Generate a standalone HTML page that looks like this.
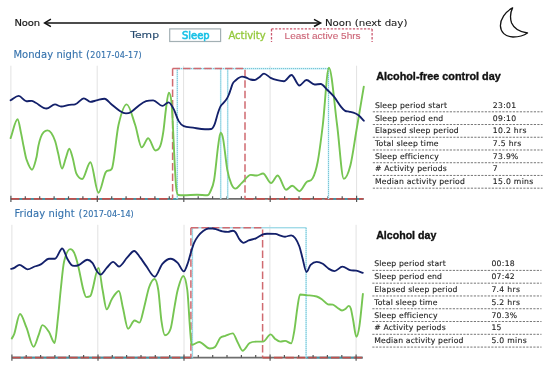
<!DOCTYPE html>
<html><head><meta charset="utf-8"><style>
html,body{margin:0;padding:0;background:#fff;}
svg{display:block;}
.dj{font-family:"DejaVu Sans",sans-serif;}
.lb{font-family:"Liberation Sans",Arial,sans-serif;}
.tb{font-family:"DejaVu Sans",sans-serif;font-size:7.7px;letter-spacing:0.13px;fill:#1e1e1e;stroke:#1e1e1e;stroke-width:0.12px;}
</style></head><body>
<svg width="550" height="368" viewBox="0 0 550 368">
<rect width="550" height="368" fill="#fff"/>
<!-- header -->
<text transform="translate(14.4,25.8) scale(1,0.92)" class="dj" font-size="10" fill="#1a1a1a" stroke="#1a1a1a" stroke-width="0.2" textLength="25.6">Noon</text>
<line x1="45" y1="22.9" x2="320.2" y2="22.9" stroke="#111" stroke-width="1.5"/>
<polyline points="50.9,19.2 44.6,22.9 50.9,26.6" fill="none" stroke="#111" stroke-width="1.5"/>
<polyline points="314,19.3 320.6,22.9 314,26.5" fill="none" stroke="#111" stroke-width="1.5"/>
<text transform="translate(324.9,26) scale(1,0.93)" class="dj" font-size="10" fill="#1a1a1a" stroke="#1a1a1a" stroke-width="0.1" textLength="82.5" lengthAdjust="spacingAndGlyphs">Noon (next day)</text>
<text transform="translate(130.2,38.1) scale(1,0.9)" class="dj" font-size="10" fill="#24496e" stroke="#24496e" stroke-width="0.15" textLength="28.8" lengthAdjust="spacingAndGlyphs">Temp</text>
<rect x="169.7" y="28.9" width="50.9" height="12.6" fill="none" stroke="#a3b0b4" stroke-width="1.2"/>
<text transform="translate(182,38.7) scale(1,0.97)" class="dj" font-size="10" fill="#19c1e5" stroke="#19c1e5" stroke-width="0.6" textLength="27.6" lengthAdjust="spacingAndGlyphs">Sleep</text>
<text transform="translate(228.4,38.6) scale(1,0.97)" class="dj" font-size="10" fill="#93c83a" stroke="#93c83a" stroke-width="0.3" textLength="37.3">Activity</text>
<path d="M271.5,28.9 V42" fill="none" stroke="#cc5a70" stroke-width="1.3" stroke-dasharray="2.5 1.5"/>
<path d="M271.5,28.9 H372.1" fill="none" stroke="#cc5a70" stroke-width="1.3" stroke-dasharray="2.2 1.5"/>
<path d="M372.1,28.9 V42" fill="none" stroke="#cc5a70" stroke-width="1.3" stroke-dasharray="2.5 1.5"/>
<text x="284.6" y="38.6" class="lb" font-size="9.7" fill="#cc6476" stroke="#cc6476" stroke-width="0.1" textLength="76" lengthAdjust="spacingAndGlyphs">Least active 5hrs</text>
<!-- moon -->
<path d="M512.6,7.9 C505,12 500.4,19 500.4,25.8 C500.6,32 505,36.8 513,37 C519,37 524,35.5 527.5,33 C520,32 514,28.5 511.6,23 C510,18 510.5,12 512.6,7.9 Z" fill="none" stroke="#111" stroke-width="1.3" stroke-linejoin="round"/>
<!-- titles -->
<text x="13.4" y="57.7" class="dj" font-size="10" fill="#3572ad" stroke="#3572ad" stroke-width="0.12" letter-spacing="0.05">Monday night <tspan dx="0.3">(</tspan><tspan font-size="8.1" dx="0.5" letter-spacing="0.12">2017-04-17)</tspan></text>
<text x="14.4" y="217" class="dj" font-size="10" fill="#3572ad" stroke="#3572ad" stroke-width="0.12" letter-spacing="0.09">Friday night <tspan dx="0.5">(</tspan><tspan font-size="8.1" dx="0.6" letter-spacing="0.05">2017-04-14)</tspan></text>
<line x1="10.9" y1="65.7" x2="10.9" y2="198.9" stroke="#e2e2e2" stroke-width="1"/>
<line x1="97.2" y1="65.7" x2="97.2" y2="198.9" stroke="#e2e2e2" stroke-width="1"/>
<line x1="183.6" y1="65.7" x2="183.6" y2="198.9" stroke="#e2e2e2" stroke-width="1"/>
<line x1="270.1" y1="65.7" x2="270.1" y2="198.9" stroke="#e2e2e2" stroke-width="1"/>
<line x1="356.6" y1="65.7" x2="356.6" y2="198.9" stroke="#e2e2e2" stroke-width="1"/>
<line x1="10.9" y1="198.9" x2="363.5" y2="198.9" stroke="#6e6e6e" stroke-width="1.8"/>
<line x1="10.9" y1="198.9" x2="177.3" y2="198.9" stroke="#3f95a6" stroke-width="1.8"/>
<line x1="328.5" y1="198.9" x2="363.5" y2="198.9" stroke="#3f95a6" stroke-width="1.8"/>
<line x1="10.9" y1="198.9" x2="172.6" y2="198.9" stroke="#c0504d" stroke-width="1.8" stroke-dasharray="8.5 2.9"/>
<line x1="245.0" y1="198.9" x2="363.5" y2="198.9" stroke="#c0504d" stroke-width="1.8" stroke-dasharray="8.5 2.9"/>
<line x1="10.9" y1="195.70000000000002" x2="10.9" y2="202.1" stroke="#555" stroke-width="1.2"/>
<line x1="25.3" y1="196.3" x2="25.3" y2="198.9" stroke="#555" stroke-width="1.2"/>
<line x1="39.7" y1="196.3" x2="39.7" y2="198.9" stroke="#555" stroke-width="1.2"/>
<line x1="54.1" y1="196.3" x2="54.1" y2="198.9" stroke="#555" stroke-width="1.2"/>
<line x1="68.5" y1="196.3" x2="68.5" y2="198.9" stroke="#555" stroke-width="1.2"/>
<line x1="82.9" y1="196.3" x2="82.9" y2="198.9" stroke="#555" stroke-width="1.2"/>
<line x1="97.3" y1="195.70000000000002" x2="97.3" y2="202.1" stroke="#555" stroke-width="1.2"/>
<line x1="111.7" y1="196.3" x2="111.7" y2="198.9" stroke="#555" stroke-width="1.2"/>
<line x1="126.1" y1="196.3" x2="126.1" y2="198.9" stroke="#555" stroke-width="1.2"/>
<line x1="140.5" y1="196.3" x2="140.5" y2="198.9" stroke="#555" stroke-width="1.2"/>
<line x1="154.9" y1="196.3" x2="154.9" y2="198.9" stroke="#555" stroke-width="1.2"/>
<line x1="169.3" y1="196.3" x2="169.3" y2="198.9" stroke="#555" stroke-width="1.2"/>
<line x1="183.8" y1="195.70000000000002" x2="183.8" y2="202.1" stroke="#555" stroke-width="1.2"/>
<line x1="198.2" y1="196.3" x2="198.2" y2="198.9" stroke="#555" stroke-width="1.2"/>
<line x1="212.6" y1="196.3" x2="212.6" y2="198.9" stroke="#555" stroke-width="1.2"/>
<line x1="227.0" y1="196.3" x2="227.0" y2="198.9" stroke="#555" stroke-width="1.2"/>
<line x1="241.4" y1="196.3" x2="241.4" y2="198.9" stroke="#555" stroke-width="1.2"/>
<line x1="255.8" y1="196.3" x2="255.8" y2="198.9" stroke="#555" stroke-width="1.2"/>
<line x1="270.2" y1="195.70000000000002" x2="270.2" y2="202.1" stroke="#555" stroke-width="1.2"/>
<line x1="284.6" y1="196.3" x2="284.6" y2="198.9" stroke="#555" stroke-width="1.2"/>
<line x1="299.0" y1="196.3" x2="299.0" y2="198.9" stroke="#555" stroke-width="1.2"/>
<line x1="313.4" y1="196.3" x2="313.4" y2="198.9" stroke="#555" stroke-width="1.2"/>
<line x1="327.8" y1="196.3" x2="327.8" y2="198.9" stroke="#555" stroke-width="1.2"/>
<line x1="342.2" y1="196.3" x2="342.2" y2="198.9" stroke="#555" stroke-width="1.2"/>
<line x1="356.6" y1="195.70000000000002" x2="356.6" y2="202.1" stroke="#555" stroke-width="1.2"/>
<path d="M177.3,198.9 V68.60000000000001 H328.5 V198.9" fill="none" stroke="#c4eef7" stroke-width="1.6"/>
<path d="M177.3,198.9 V68.60000000000001 H328.5 V198.9" fill="none" stroke="#72bfd0" stroke-width="1" stroke-dasharray="1 1"/>
<line x1="220.7" y1="68.60000000000001" x2="220.7" y2="198.9" stroke="#c4eef7" stroke-width="1.6"/>
<line x1="220.7" y1="68.60000000000001" x2="220.7" y2="198.9" stroke="#72bfd0" stroke-width="1" stroke-dasharray="1 1"/>
<line x1="227.7" y1="68.60000000000001" x2="227.7" y2="198.9" stroke="#c4eef7" stroke-width="1.6"/>
<line x1="227.7" y1="68.60000000000001" x2="227.7" y2="198.9" stroke="#72bfd0" stroke-width="1" stroke-dasharray="1 1"/>
<path d="M172.6,68.60000000000001 H245.0 V198.9" fill="none" stroke="#d06a70" stroke-width="1.5" stroke-dasharray="7.5 3"/>
<path d="M172.6,68.60000000000001 V198.9" fill="none" stroke="#d06a70" stroke-width="1.5" stroke-dasharray="7.5 3"/>
<path d="M10.60,138.10 C12.93,131.83 15.27,119.30 17.60,119.30 C18.73,119.30 19.87,127.79 21.00,132.90 C21.90,136.96 22.80,142.45 23.70,146.80 C24.63,151.31 25.57,156.92 26.50,159.50 C28.33,164.56 30.17,169.70 32.00,169.70 C33.43,169.70 34.87,163.43 36.30,158.10 C37.00,155.50 37.70,149.18 38.40,145.90 C39.17,142.31 39.93,139.48 40.70,137.50 C41.70,134.92 42.70,133.24 43.70,132.20 C44.97,130.88 46.23,130.40 47.50,130.40 C48.77,130.40 50.03,131.21 51.30,133.00 C52.60,134.84 53.90,137.44 55.20,141.30 C56.20,144.27 57.20,149.50 58.20,153.50 C59.47,158.57 60.73,168.50 62.00,168.50 C63.27,168.50 64.53,161.54 65.80,158.10 C66.97,154.94 68.13,148.70 69.30,148.70 C70.43,148.70 71.57,154.10 72.70,158.10 C73.90,162.33 75.10,170.76 76.30,173.40 C78.27,177.73 80.23,179.00 82.20,179.00 C84.93,179.00 87.67,162.30 90.40,162.30 C93.10,162.30 95.80,192.70 98.50,192.70 C100.90,192.70 103.30,176.43 105.70,172.30 C107.73,168.80 109.77,172.30 111.80,168.80 C114.03,164.96 116.27,134.65 118.50,125.00 C121.23,113.19 123.97,104.40 126.70,104.40 C129.53,104.40 132.37,116.88 135.20,125.00 C137.37,131.21 139.53,147.40 141.70,147.40 C143.87,147.40 146.03,138.20 148.20,138.20 C150.63,138.20 153.07,150.50 155.50,150.50 C157.07,150.50 158.63,149.94 160.20,146.20 C161.23,143.74 162.27,138.55 163.30,131.90 C164.17,126.32 165.03,115.69 165.90,109.50 C166.87,102.59 167.83,92.60 168.80,92.60 C169.67,92.60 170.53,94.28 171.40,101.30 C171.90,105.35 172.40,116.33 172.90,125.80 C173.43,135.90 173.97,149.95 174.50,160.00 C175.07,170.68 175.63,182.91 176.20,188.00 C176.93,194.58 177.67,194.88 178.40,195.00 C180.20,195.30 182.00,195.30 183.80,195.30 C188.20,195.30 192.60,194.70 197.00,194.70 C200.43,194.70 203.87,195.30 207.30,195.30 C208.20,195.30 209.10,194.33 210.00,192.30 C211.37,189.22 212.73,187.82 214.10,180.00 C215.47,172.18 216.83,155.35 218.20,145.40 C219.00,139.58 219.80,132.70 220.60,132.70 C221.47,132.70 222.33,134.50 223.20,139.30 C224.57,146.87 225.93,162.33 227.30,169.80 C228.67,177.27 230.03,180.97 231.40,184.10 C232.77,187.23 234.13,188.60 235.50,188.60 C237.53,188.60 239.57,184.92 241.60,183.10 C244.67,180.35 247.73,174.90 250.80,174.90 C252.83,174.90 254.87,175.50 256.90,175.50 C258.93,175.50 260.97,173.50 263.00,173.50 C265.70,173.50 268.40,183.10 271.10,183.10 C273.30,183.10 275.50,175.50 277.70,175.50 C280.50,175.50 283.30,189.80 286.10,189.80 C288.13,189.80 290.17,185.70 292.20,185.70 C294.60,185.70 297.00,191.20 299.40,191.20 C301.77,191.20 304.13,184.39 306.50,182.10 C308.53,180.13 310.57,182.10 312.60,178.40 C314.30,175.31 316.00,170.60 317.70,161.70 C319.40,152.80 321.10,139.27 322.80,125.00 C324.83,107.93 326.87,67.70 328.90,67.70 C331.63,67.70 334.37,104.60 337.10,125.00 C339.33,141.67 341.57,178.90 343.80,178.90 C345.97,178.90 348.13,174.14 350.30,165.80 C352.37,157.84 354.43,142.12 356.50,130.00 C358.93,115.72 361.37,101.07 363.80,86.60" fill="none" stroke="#76c552" stroke-width="1.9" stroke-linejoin="round" stroke-linecap="round"/>
<path d="M10.60,100.30 C13.30,98.83 16.00,95.90 18.70,95.90 C21.30,95.90 23.90,101.20 26.50,101.20 C28.20,101.20 29.90,100.80 31.60,100.80 C32.97,100.80 34.33,102.09 35.70,102.80 C39.30,104.66 42.90,108.50 46.50,108.50 C49.33,108.50 52.17,104.40 55.00,104.40 C57.03,104.40 59.07,106.50 61.10,106.50 C63.83,106.50 66.57,105.21 69.30,104.80 C71.23,104.51 73.17,104.80 75.10,104.40 C78.03,103.79 80.97,98.30 83.90,98.30 C86.07,98.30 88.23,101.80 90.40,101.80 C92.43,101.80 94.47,100.84 96.50,100.40 C99.20,99.81 101.90,98.70 104.60,98.70 C106.67,98.70 108.73,102.14 110.80,103.80 C113.83,106.24 116.87,109.08 119.90,111.00 C121.93,112.28 123.97,113.40 126.00,113.40 C127.70,113.40 129.40,113.05 131.10,112.00 C133.83,110.31 136.57,107.17 139.30,105.20 C141.57,103.57 143.83,101.97 146.10,101.20 C148.47,100.40 150.83,100.40 153.20,100.40 C156.27,100.40 159.33,105.90 162.40,105.90 C164.43,105.90 166.47,102.40 168.50,102.40 C170.20,102.40 171.90,105.78 173.60,108.90 C175.30,112.02 177.00,118.22 178.70,121.10 C180.40,123.98 182.10,125.42 183.80,126.20 C186.87,127.62 189.93,127.27 193.00,127.70 C197.00,128.27 201.00,129.20 205.00,129.20 C207.10,129.20 209.20,129.20 211.30,129.00 C212.40,128.90 213.50,126.92 214.60,124.30 C215.67,121.76 216.73,116.74 217.80,113.50 C218.70,110.77 219.60,108.09 220.50,106.40 C221.43,104.65 222.37,104.30 223.30,103.20 C224.37,101.94 225.43,100.92 226.50,99.30 C227.23,98.19 227.97,96.70 228.70,95.00 C229.30,93.60 229.90,91.71 230.50,90.00 C231.23,87.91 231.97,84.99 232.70,83.60 C233.63,81.83 234.57,81.40 235.50,80.50 C236.50,79.53 237.50,78.60 238.50,78.00 C239.67,77.30 240.83,76.60 242.00,76.60 C243.33,76.60 244.67,77.05 246.00,77.50 C247.50,78.01 249.00,79.06 250.50,79.50 C251.83,79.89 253.17,80.00 254.50,80.00 C256.00,80.00 257.50,78.51 259.00,77.50 C260.67,76.38 262.33,73.60 264.00,73.60 C266.20,73.60 268.40,76.81 270.60,77.90 C272.83,79.01 275.07,79.65 277.30,80.20 C279.53,80.75 281.77,81.20 284.00,81.20 C286.50,81.20 289.00,75.00 291.50,75.00 C294.13,75.00 296.77,85.50 299.40,85.50 C301.77,85.50 304.13,80.00 306.50,80.00 C309.20,80.00 311.90,84.50 314.60,84.50 C316.67,84.50 318.73,84.00 320.80,84.00 C322.83,84.00 324.87,87.54 326.90,89.50 C329.27,91.78 331.63,93.80 334.00,96.70 C336.37,99.60 338.73,103.90 341.10,106.90 C342.47,108.63 343.83,110.14 345.20,110.90 C346.47,111.60 347.73,111.28 349.00,111.60 C351.20,112.15 353.40,112.57 355.60,113.50 C356.87,114.04 358.13,114.89 359.40,116.00 C360.87,117.29 362.33,119.13 363.80,120.70" fill="none" stroke="#13206a" stroke-width="1.85" stroke-linejoin="round" stroke-linecap="round"/>
<line x1="11.9" y1="224.8" x2="11.9" y2="357.6" stroke="#e2e2e2" stroke-width="1"/>
<line x1="97.8" y1="224.8" x2="97.8" y2="357.6" stroke="#e2e2e2" stroke-width="1"/>
<line x1="184.0" y1="224.8" x2="184.0" y2="357.6" stroke="#e2e2e2" stroke-width="1"/>
<line x1="269.9" y1="224.8" x2="269.9" y2="357.6" stroke="#e2e2e2" stroke-width="1"/>
<line x1="356.1" y1="224.8" x2="356.1" y2="357.6" stroke="#e2e2e2" stroke-width="1"/>
<line x1="12.2" y1="357.6" x2="362.7" y2="357.6" stroke="#6e6e6e" stroke-width="1.8"/>
<line x1="12.2" y1="357.6" x2="192.4" y2="357.6" stroke="#3f95a6" stroke-width="1.8"/>
<line x1="306.1" y1="357.6" x2="362.7" y2="357.6" stroke="#3f95a6" stroke-width="1.8"/>
<line x1="12.2" y1="357.6" x2="190.9" y2="357.6" stroke="#c0504d" stroke-width="1.8" stroke-dasharray="8.5 2.9"/>
<line x1="262.6" y1="357.6" x2="362.7" y2="357.6" stroke="#c0504d" stroke-width="1.8" stroke-dasharray="8.5 2.9"/>
<line x1="11.9" y1="354.40000000000003" x2="11.9" y2="360.8" stroke="#555" stroke-width="1.2"/>
<line x1="26.2" y1="355.0" x2="26.2" y2="357.6" stroke="#555" stroke-width="1.2"/>
<line x1="40.6" y1="355.0" x2="40.6" y2="357.6" stroke="#555" stroke-width="1.2"/>
<line x1="54.9" y1="355.0" x2="54.9" y2="357.6" stroke="#555" stroke-width="1.2"/>
<line x1="69.3" y1="355.0" x2="69.3" y2="357.6" stroke="#555" stroke-width="1.2"/>
<line x1="83.6" y1="355.0" x2="83.6" y2="357.6" stroke="#555" stroke-width="1.2"/>
<line x1="98.0" y1="354.40000000000003" x2="98.0" y2="360.8" stroke="#555" stroke-width="1.2"/>
<line x1="112.3" y1="355.0" x2="112.3" y2="357.6" stroke="#555" stroke-width="1.2"/>
<line x1="126.6" y1="355.0" x2="126.6" y2="357.6" stroke="#555" stroke-width="1.2"/>
<line x1="141.0" y1="355.0" x2="141.0" y2="357.6" stroke="#555" stroke-width="1.2"/>
<line x1="155.3" y1="355.0" x2="155.3" y2="357.6" stroke="#555" stroke-width="1.2"/>
<line x1="169.7" y1="355.0" x2="169.7" y2="357.6" stroke="#555" stroke-width="1.2"/>
<line x1="184.0" y1="354.40000000000003" x2="184.0" y2="360.8" stroke="#555" stroke-width="1.2"/>
<line x1="198.3" y1="355.0" x2="198.3" y2="357.6" stroke="#555" stroke-width="1.2"/>
<line x1="212.7" y1="355.0" x2="212.7" y2="357.6" stroke="#555" stroke-width="1.2"/>
<line x1="227.0" y1="355.0" x2="227.0" y2="357.6" stroke="#555" stroke-width="1.2"/>
<line x1="241.4" y1="355.0" x2="241.4" y2="357.6" stroke="#555" stroke-width="1.2"/>
<line x1="255.7" y1="355.0" x2="255.7" y2="357.6" stroke="#555" stroke-width="1.2"/>
<line x1="270.1" y1="354.40000000000003" x2="270.1" y2="360.8" stroke="#555" stroke-width="1.2"/>
<line x1="284.4" y1="355.0" x2="284.4" y2="357.6" stroke="#555" stroke-width="1.2"/>
<line x1="298.7" y1="355.0" x2="298.7" y2="357.6" stroke="#555" stroke-width="1.2"/>
<line x1="313.1" y1="355.0" x2="313.1" y2="357.6" stroke="#555" stroke-width="1.2"/>
<line x1="327.4" y1="355.0" x2="327.4" y2="357.6" stroke="#555" stroke-width="1.2"/>
<line x1="341.8" y1="355.0" x2="341.8" y2="357.6" stroke="#555" stroke-width="1.2"/>
<line x1="356.1" y1="354.40000000000003" x2="356.1" y2="360.8" stroke="#555" stroke-width="1.2"/>
<path d="M192.4,357.6 V227.70000000000002 H306.1 V357.6" fill="none" stroke="#c4eef7" stroke-width="1.6"/>
<path d="M192.4,357.6 V227.70000000000002 H306.1 V357.6" fill="none" stroke="#72bfd0" stroke-width="1" stroke-dasharray="1 1"/>
<path d="M190.9,227.70000000000002 H262.6 V357.6" fill="none" stroke="#d06a70" stroke-width="1.5" stroke-dasharray="7.5 3"/>
<path d="M190.9,227.70000000000002 V357.6" fill="none" stroke="#d06a70" stroke-width="1.5" stroke-dasharray="7.5 3"/>
<path d="M11.80,338.50 C12.63,336.93 13.47,336.29 14.30,333.80 C16.20,328.12 18.10,314.00 20.00,314.00 C22.17,314.00 24.33,322.49 26.50,327.70 C28.87,333.39 31.23,346.70 33.60,346.70 C35.30,346.70 37.00,338.97 38.70,334.80 C39.93,331.77 41.17,325.10 42.40,325.10 C44.57,325.10 46.73,328.62 48.90,331.80 C50.80,334.59 52.70,343.00 54.60,343.00 C55.77,343.00 56.93,326.64 58.10,316.50 C58.97,308.97 59.83,298.01 60.70,290.00 C61.80,279.84 62.90,266.69 64.00,262.00 C66.10,253.05 68.20,249.10 70.30,249.10 C71.57,249.10 72.83,249.91 74.10,252.60 C75.47,255.51 76.83,260.39 78.20,265.90 C79.87,272.62 81.53,282.88 83.20,289.30 C84.23,293.28 85.27,297.10 86.30,297.10 C87.67,297.10 89.03,297.10 90.40,296.10 C91.07,295.61 91.73,292.32 92.40,290.00 C94.43,282.92 96.47,267.90 98.50,267.90 C99.87,267.90 101.23,283.08 102.60,290.00 C103.97,296.92 105.33,309.40 106.70,309.40 C108.40,309.40 110.10,301.76 111.80,299.20 C114.17,295.63 116.53,291.00 118.90,291.00 C120.27,291.00 121.63,302.70 123.00,308.30 C124.70,315.27 126.40,328.70 128.10,328.70 C130.23,328.70 132.37,320.50 134.50,320.50 C136.17,320.50 137.83,322.60 139.50,322.60 C141.00,322.60 142.50,313.41 144.00,307.90 C145.73,301.54 147.47,291.73 149.20,287.00 C151.00,282.09 152.80,279.00 154.60,279.00 C155.83,279.00 157.07,282.45 158.30,290.00 C159.33,296.32 160.37,313.52 161.40,320.60 C162.57,328.59 163.73,335.20 164.90,335.20 C166.80,335.20 168.70,334.36 170.60,328.70 C171.93,324.73 173.27,313.57 174.60,306.30 C175.63,300.67 176.67,293.64 177.70,290.00 C179.53,283.54 181.37,276.00 183.20,276.00 C184.57,276.00 185.93,279.66 187.30,290.00 C188.17,296.56 189.03,315.63 189.90,326.70 C190.47,333.93 191.03,344.90 191.60,344.90 C194.13,344.90 196.67,342.00 199.20,342.00 C202.73,342.00 206.27,348.50 209.80,348.50 C211.53,348.50 213.27,348.50 215.00,347.00 C216.73,345.50 218.47,339.77 220.20,337.90 C221.90,336.07 223.60,336.51 225.30,335.90 C227.80,335.01 230.30,333.40 232.80,333.40 C234.37,333.40 235.93,339.23 237.50,342.00 C239.20,345.00 240.90,350.70 242.60,350.70 C244.97,350.70 247.33,344.38 249.70,343.00 C252.10,341.60 254.50,341.60 256.90,341.60 C258.93,341.60 260.97,341.60 263.00,341.60 C265.57,341.60 268.13,334.40 270.70,334.40 C272.20,334.40 273.70,337.77 275.20,338.90 C276.90,340.18 278.60,341.60 280.30,341.60 C281.90,341.60 283.50,340.90 285.10,340.90 C287.13,340.90 289.17,343.40 291.20,343.40 C292.23,343.40 293.27,336.75 294.30,330.80 C295.30,325.05 296.30,314.67 297.30,308.30 C298.20,302.57 299.10,294.50 300.00,294.50 C302.17,294.50 304.33,294.84 306.50,295.10 C309.90,295.51 313.30,295.59 316.70,296.50 C318.40,296.96 320.10,298.02 321.80,299.20 C323.83,300.62 325.87,303.80 327.90,304.30 C329.53,304.70 331.17,304.30 332.80,304.70 C334.33,305.08 335.87,306.73 337.40,307.70 C338.93,308.67 340.47,310.50 342.00,310.50 C343.17,310.50 344.33,309.69 345.50,308.90 C346.60,308.16 347.70,305.90 348.80,305.90 C349.47,305.90 350.13,306.37 350.80,308.50 C351.53,310.84 352.27,315.59 353.00,319.30 C354.13,325.03 355.27,336.80 356.40,336.80 C357.40,336.80 358.40,332.80 359.40,326.20 C360.57,318.50 361.73,304.67 362.90,293.90" fill="none" stroke="#76c552" stroke-width="1.9" stroke-linejoin="round" stroke-linecap="round"/>
<path d="M11.20,268.90 C12.23,268.57 13.27,268.42 14.30,267.90 C16.00,267.05 17.70,264.80 19.40,264.80 C22.10,264.80 24.80,269.30 27.50,269.30 C29.87,269.30 32.23,267.37 34.60,266.50 C36.67,265.74 38.73,265.53 40.80,264.40 C43.50,262.93 46.20,258.70 48.90,258.70 C50.93,258.70 52.97,258.70 55.00,258.70 C57.40,258.70 59.80,248.50 62.20,248.50 C63.90,248.50 65.60,255.65 67.30,258.70 C68.63,261.09 69.97,263.39 71.30,264.80 C72.23,265.79 73.17,265.90 74.10,265.90 C75.80,265.90 77.50,265.60 79.20,264.80 C81.90,263.53 84.60,259.70 87.30,259.70 C89.00,259.70 90.70,260.80 92.40,262.80 C93.77,264.40 95.13,268.53 96.50,270.50 C97.87,272.47 99.23,274.60 100.60,274.60 C102.63,274.60 104.67,269.97 106.70,267.90 C108.87,265.70 111.03,261.80 113.20,261.80 C115.10,261.80 117.00,266.50 118.90,266.50 C121.63,266.50 124.37,260.47 127.10,257.70 C129.47,255.30 131.83,251.00 134.20,251.00 C136.23,251.00 138.27,255.15 140.30,257.70 C142.23,260.12 144.17,263.35 146.10,265.90 C148.97,269.68 151.83,276.70 154.70,276.70 C157.27,276.70 159.83,266.71 162.40,263.80 C165.13,260.71 167.87,258.70 170.60,258.70 C172.97,258.70 175.33,260.52 177.70,262.80 C179.73,264.76 181.77,271.40 183.80,271.40 C185.27,271.40 186.73,265.90 188.20,262.00 C189.10,259.60 190.00,255.40 190.90,252.50 C192.00,248.96 193.10,245.23 194.20,242.70 C195.47,239.79 196.73,237.86 198.00,236.20 C199.63,234.06 201.27,232.51 202.90,231.30 C204.73,229.94 206.57,228.50 208.40,228.50 C209.83,228.50 211.27,228.50 212.70,228.50 C214.17,228.50 215.63,229.18 217.10,229.60 C218.90,230.11 220.70,230.94 222.50,231.30 C224.33,231.67 226.17,231.80 228.00,231.80 C229.63,231.80 231.27,230.70 232.90,230.70 C233.80,230.70 234.70,231.21 235.60,232.40 C236.90,234.11 238.20,237.71 239.50,239.40 C240.87,241.18 242.23,242.80 243.60,242.80 C245.30,242.80 247.00,241.02 248.70,240.40 C251.10,239.52 253.50,239.32 255.90,238.30 C258.27,237.29 260.63,235.27 263.00,234.30 C264.37,233.74 265.73,233.70 267.10,233.70 C269.80,233.70 272.50,233.70 275.20,233.90 C277.23,234.05 279.27,235.32 281.30,235.90 C282.57,236.26 283.83,236.70 285.10,236.70 C287.13,236.70 289.17,235.30 291.20,235.30 C292.57,235.30 293.93,236.43 295.30,238.30 C296.67,240.17 298.03,242.77 299.40,246.50 C300.40,249.23 301.40,254.11 302.40,257.70 C303.77,262.61 305.13,272.00 306.50,272.00 C307.87,272.00 309.23,266.17 310.60,264.80 C312.63,262.77 314.67,261.80 316.70,261.80 C318.73,261.80 320.77,262.62 322.80,263.80 C324.83,264.98 326.87,267.63 328.90,268.90 C330.77,270.06 332.63,271.10 334.50,271.10 C337.17,271.10 339.83,266.60 342.50,266.60 C345.03,266.60 347.57,269.36 350.10,270.10 C352.17,270.70 354.23,270.26 356.30,270.70 C358.47,271.16 360.63,272.10 362.80,272.80" fill="none" stroke="#13206a" stroke-width="1.85" stroke-linejoin="round" stroke-linecap="round"/>
<text x="376.2" y="79.8" class="lb" font-weight="bold" font-size="10.5" fill="#111" stroke="#111" stroke-width="0.35" textLength="124.5" lengthAdjust="spacingAndGlyphs">Alcohol-free control day</text>
<line x1="372.8" y1="111.8" x2="542.6" y2="111.8" stroke="#777" stroke-width="1" stroke-dasharray="2.2 1.3"/>
<text x="374.9" y="107.8" class="tb" style="letter-spacing:0.2px">Sleep period start</text>
<text x="492.8" y="107.8" class="tb" style="letter-spacing:0.3px">23:01</text>
<line x1="372.8" y1="124.53" x2="542.6" y2="124.53" stroke="#777" stroke-width="1" stroke-dasharray="2.2 1.3"/>
<text x="374.9" y="120.5" class="tb" style="letter-spacing:0.2px">Sleep period end</text>
<text x="492.8" y="120.5" class="tb" style="letter-spacing:0.3px">09:10</text>
<line x1="372.8" y1="137.26" x2="542.6" y2="137.26" stroke="#777" stroke-width="1" stroke-dasharray="2.2 1.3"/>
<text x="374.9" y="133.3" class="tb" style="letter-spacing:0.2px">Elapsed sleep period</text>
<text x="492.8" y="133.3" class="tb" style="letter-spacing:0.3px">10.2 hrs</text>
<line x1="372.8" y1="149.99" x2="542.6" y2="149.99" stroke="#777" stroke-width="1" stroke-dasharray="2.2 1.3"/>
<text x="374.9" y="146.0" class="tb" style="letter-spacing:0.2px">Total sleep time</text>
<text x="492.8" y="146.0" class="tb" style="letter-spacing:0.3px">7.5 hrs</text>
<line x1="372.8" y1="162.72" x2="542.6" y2="162.72" stroke="#777" stroke-width="1" stroke-dasharray="2.2 1.3"/>
<text x="374.9" y="158.7" class="tb" style="letter-spacing:0.2px">Sleep efficiency</text>
<text x="492.8" y="158.7" class="tb" style="letter-spacing:0.3px">73.9%</text>
<line x1="372.8" y1="175.45" x2="542.6" y2="175.45" stroke="#777" stroke-width="1" stroke-dasharray="2.2 1.3"/>
<text x="374.9" y="171.4" class="tb" style="letter-spacing:0.2px"># Activity periods</text>
<text x="492.8" y="171.4" class="tb" style="letter-spacing:0.3px">7</text>
<line x1="372.8" y1="188.18" x2="542.6" y2="188.18" stroke="#777" stroke-width="1" stroke-dasharray="2.2 1.3"/>
<text x="374.9" y="184.2" class="tb" style="letter-spacing:0.2px">Median activity period</text>
<text x="492.8" y="184.2" class="tb" style="letter-spacing:0.3px">15.0 mins</text>
<text x="376.2" y="238.7" class="lb" font-weight="bold" font-size="10.5" fill="#111" stroke="#111" stroke-width="0.35" textLength="60.1" lengthAdjust="spacingAndGlyphs">Alcohol day</text>
<line x1="372.3" y1="270.4" x2="541.5" y2="270.4" stroke="#777" stroke-width="1" stroke-dasharray="2.2 1.3"/>
<text x="374.2" y="266.4" class="tb" style="letter-spacing:0.17px">Sleep period start</text>
<text x="491.4" y="266.4" class="tb" style="letter-spacing:0.3px">00:18</text>
<line x1="372.3" y1="283.17999999999995" x2="541.5" y2="283.17999999999995" stroke="#777" stroke-width="1" stroke-dasharray="2.2 1.3"/>
<text x="374.2" y="279.2" class="tb" style="letter-spacing:0.17px">Sleep period end</text>
<text x="491.4" y="279.2" class="tb" style="letter-spacing:0.3px">07:42</text>
<line x1="372.3" y1="295.96" x2="541.5" y2="295.96" stroke="#777" stroke-width="1" stroke-dasharray="2.2 1.3"/>
<text x="374.2" y="292.0" class="tb" style="letter-spacing:0.17px">Elapsed sleep period</text>
<text x="491.4" y="292.0" class="tb" style="letter-spacing:0.3px">7.4 hrs</text>
<line x1="372.3" y1="308.73999999999995" x2="541.5" y2="308.73999999999995" stroke="#777" stroke-width="1" stroke-dasharray="2.2 1.3"/>
<text x="374.2" y="304.7" class="tb" style="letter-spacing:0.17px">Total sleep time</text>
<text x="491.4" y="304.7" class="tb" style="letter-spacing:0.3px">5.2 hrs</text>
<line x1="372.3" y1="321.52" x2="541.5" y2="321.52" stroke="#777" stroke-width="1" stroke-dasharray="2.2 1.3"/>
<text x="374.2" y="317.5" class="tb" style="letter-spacing:0.17px">Sleep efficiency</text>
<text x="491.4" y="317.5" class="tb" style="letter-spacing:0.3px">70.3%</text>
<line x1="372.3" y1="334.29999999999995" x2="541.5" y2="334.29999999999995" stroke="#777" stroke-width="1" stroke-dasharray="2.2 1.3"/>
<text x="374.2" y="330.3" class="tb" style="letter-spacing:0.17px"># Activity periods</text>
<text x="491.4" y="330.3" class="tb" style="letter-spacing:0.3px">15</text>
<line x1="372.3" y1="347.08" x2="541.5" y2="347.08" stroke="#777" stroke-width="1" stroke-dasharray="2.2 1.3"/>
<text x="374.2" y="343.1" class="tb" style="letter-spacing:0.17px">Median activity period</text>
<text x="491.4" y="343.1" class="tb" style="letter-spacing:0.3px">5.0 mins</text>
</svg>
</body></html>
